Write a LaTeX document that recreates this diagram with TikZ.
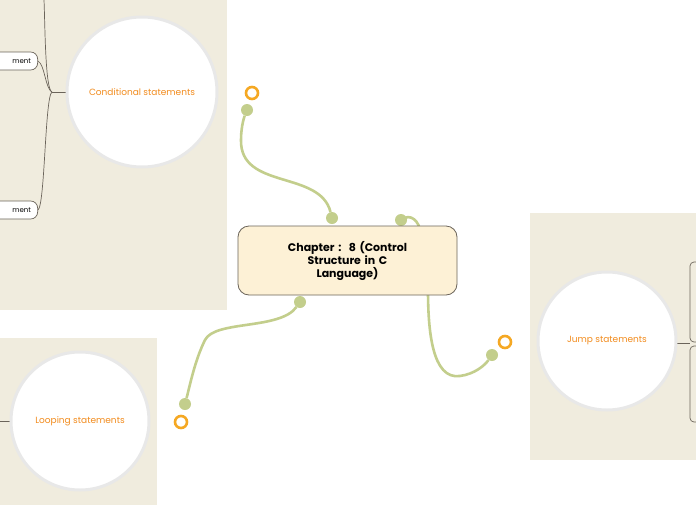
\documentclass[tikz,border=0pt]{standalone}
\usepackage{fontspec}
\setmainfont{Poppins}
\begin{document}
\begin{tikzpicture}[x=1pt,y=-1pt,
  panel/.style={fill=panelc,draw=none},
  topic/.style={circle,fill=white,draw=ringc,line width=3pt,minimum size=#1,text=orangec,font=\fontsize{9}{10}\selectfont},
  conn/.style={draw=greenc,line width=2.6pt},
  dot/.style={circle,fill=greenc,minimum size=12pt,inner sep=0pt},
  ring/.style={circle,draw=ringo,line width=2.6pt,minimum size=12pt,inner sep=0pt,fill=white},
  leaf/.style={draw=graylc,line width=0.7pt,rounded corners=7pt,fill=white},
  tline/.style={draw=graylc,line width=0.7pt}]
\definecolor{panelc}{HTML}{F0ECDE}
\definecolor{ringc}{HTML}{E8E8E8}
\definecolor{orangec}{HTML}{F28C1E}
\definecolor{greenc}{HTML}{C3CE8C}
\definecolor{ringo}{HTML}{F5A823}
\definecolor{graylc}{HTML}{6B645A}
\definecolor{centerc}{HTML}{FDF1D6}
\useasboundingbox (0,0) rectangle (696,520);
\fill[white] (0,0) rectangle (696,520);
\fill[panel] (0,0) rectangle (227,310);
\fill[panel] (0,338) rectangle (157,505);
\fill[panel] (530,213) rectangle (696,460);
% left tree
\coordinate (lj) at (52,92);
\draw[tline] (66,92) -- (lj);
\draw[tline] (lj) .. controls (45,90) and (45,20) .. (44,0);
\draw[tline] (lj) .. controls (45,88) and (45,65) .. (38,61);
\draw[tline] (lj) .. controls (45,96) and (45,205) .. (38,210);
\node[leaf,minimum width=50pt,minimum height=18pt,anchor=east,font=\fontsize{7}{8}\selectfont] (l1) at (38,61) {\hspace*{18pt}ment};
\node[leaf,minimum width=50pt,minimum height=18pt,anchor=east,font=\fontsize{7}{8}\selectfont] (l2) at (38,210) {\hspace*{18pt}ment};
% right tree
\draw[tline] (677,343) -- (690,343);
\draw[tline,rounded corners=4pt] (700,262) -- (690,262) -- (690,342) -- (700,342);
\draw[tline,rounded corners=4pt] (700,346) -- (690,346) -- (690,422) -- (700,422);
% left bottom tree
\draw[tline] (0,421) -- (10,421);
% topics
\node[topic=150pt] (cond) at (142,92) {Conditional statements};
\node[topic=138pt] (loop) at (80,421) {Looping statements};
\node[topic=138pt] (jump) at (607,341) {Jump statements};
% connectors
\node[dot] (d1) at (332,218) {};
\node[dot] (d2) at (247,110) {};
\node[ring] (r1) at (252,93) {};
\node[dot] (d3) at (300,302) {};
\node[dot] (d4) at (185,404) {};
\node[ring] (r2) at (181,422) {};
\node[dot] (d5) at (492,355) {};
\node[ring] (r3) at (505,342) {};
\draw[conn] (d1) .. controls (320,170) and (240,190) .. (241,140) .. controls (241,125) and (245,115) .. (d2);
\draw[conn] (d3) .. controls (280,330) and (215,320) .. (205,340) .. controls (195,360) and (190,385) .. (d4);
\draw[conn] (428,290) .. controls (428,330) and (432,380) .. (460,376) .. controls (475,374) and (485,365) .. (d5);
\draw[conn] (402,220) .. controls (410,212) and (420,222) .. (420,232);
\node[dot] (d6) at (401,220) {};
% center
\node[draw=graylc,line width=0.8pt,fill=centerc,rounded corners=11pt,minimum width=219pt,minimum height=69pt,align=center,font=\bfseries\fontsize{11}{13}\selectfont,text width=180pt] (c) at (347.5,260.5) {Chapter :~~8 (Control\\Structure in C\\Language)};
\end{tikzpicture}
\end{document}
